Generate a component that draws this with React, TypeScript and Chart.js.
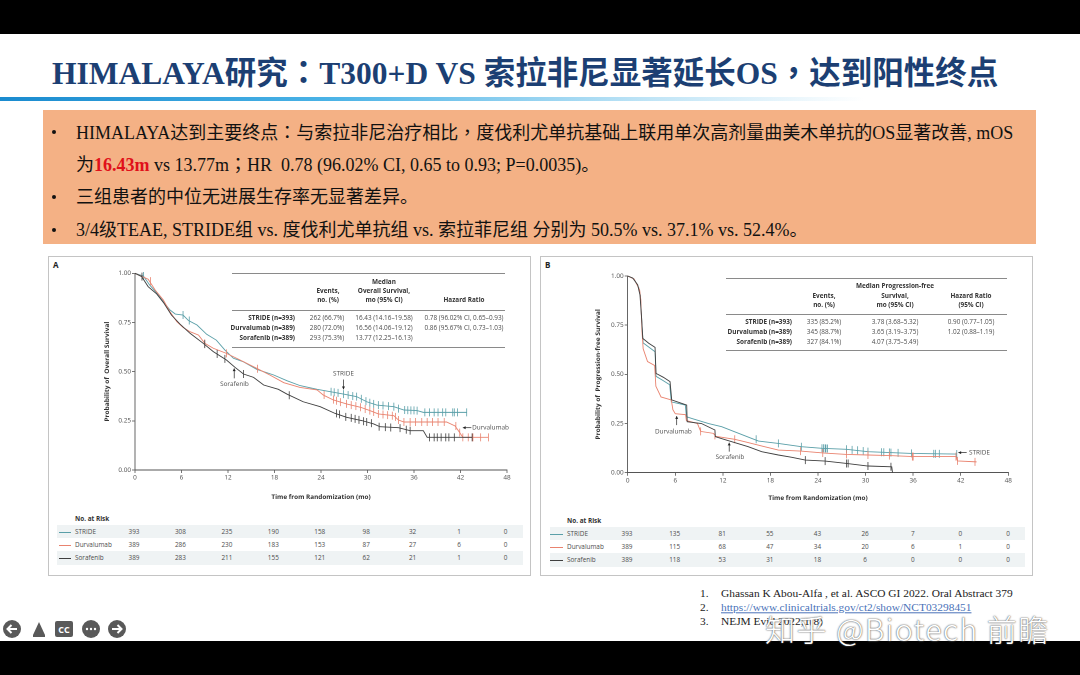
import React, { useEffect, useRef } from "react";
import { Chart, registerables } from "chart.js";

Chart.register(...registerables);

const STRIDE_COLOR = "#5a9fa8";
const DURVA_COLOR = "#e9836f";
const SORA_COLOR = "#3f3f3f";
const TEXT_COLOR = "#4d4d4d";
const UI_FONT = '"Open Sans", sans-serif';
const SLIDE_FONT = '"Liberation Serif", "Noto Sans CJK SC", serif';
const PUNCT_FONT = '"Noto Sans CJK TC", sans-serif';

const xTicks = [0, 6, 12, 18, 24, 30, 36, 42, 48];
const yTicks = [0, 0.25, 0.5, 0.75, 1];

// Overall survival curves
const osStrideT = [0, 1.08, 1.9, 2.8, 3.66, 4.5, 5.2, 6.2, 6.9, 8, 9.25, 10.5, 11.6, 12.7, 14, 15.7, 17.9, 19.6, 21.3, 23.5, 25.2, 26.9, 28.6, 29.9, 31.2, 33.4, 34.7, 36.4, 37.2, 42.8];
const osStrideS = [1, 0.986, 0.94, 0.9, 0.856, 0.814, 0.793, 0.788, 0.76, 0.737, 0.69, 0.66, 0.61, 0.568, 0.55, 0.512, 0.483, 0.454, 0.429, 0.41, 0.398, 0.386, 0.373, 0.347, 0.33, 0.322, 0.305, 0.302, 0.293, 0.293];
const osDurvaT = [0, 1.7, 2.6, 3.66, 4.5, 5.4, 6.2, 7.1, 8.2, 9, 10.1, 11.8, 13.1, 15.7, 17.4, 19.2, 21.3, 23.5, 24.3, 25.6, 27.3, 29.1, 30.3, 31.4, 33.4, 34, 34.7, 40.2, 41.3, 41.9, 42.3, 45.6];
const osDurvaS = [1, 0.97, 0.915, 0.864, 0.805, 0.754, 0.725, 0.703, 0.686, 0.644, 0.619, 0.593, 0.568, 0.517, 0.483, 0.444, 0.42, 0.407, 0.381, 0.356, 0.336, 0.319, 0.302, 0.285, 0.276, 0.254, 0.244, 0.244, 0.224, 0.19, 0.166, 0.166];
const osSoraT = [0, 0.86, 1.7, 2.8, 3.75, 4.7, 5.8, 7.1, 8.8, 10.1, 11.8, 12.9, 14, 15.3, 16.6, 18.5, 19.6, 21.7, 23.9, 25.8, 27.3, 29.3, 30.8, 31.6, 34, 35.5, 37.2, 37.7, 43.5];
const osSoraS = [1, 0.983, 0.932, 0.895, 0.847, 0.788, 0.742, 0.695, 0.644, 0.602, 0.559, 0.522, 0.488, 0.471, 0.432, 0.41, 0.386, 0.347, 0.322, 0.288, 0.268, 0.251, 0.234, 0.22, 0.215, 0.2, 0.2, 0.166, 0.166];

// Overall survival censor marks
const osStrideCensorT = [1.1, 6.2, 7, 25.3, 25.7, 26.2, 26.9, 27.5, 28.1, 28.6, 29.2, 29.8, 30.3, 30.8, 31.4, 32, 32.7, 33.4, 34, 34.8, 35.2, 35.6, 36, 36.4, 37.4, 38, 38.6, 39.1, 39.7, 40.1, 41, 41.2, 41.6, 42.8];
const osStrideCensorS = [0.986, 0.788, 0.76, 0.398, 0.395, 0.392, 0.386, 0.381, 0.376, 0.373, 0.362, 0.35, 0.342, 0.336, 0.33, 0.328, 0.325, 0.322, 0.312, 0.305, 0.304, 0.303, 0.303, 0.302, 0.293, 0.293, 0.293, 0.293, 0.293, 0.293, 0.293, 0.293, 0.293, 0.293];
const osDurvaCensorT = [2, 9, 11.8, 15.8, 24.4, 25.6, 26, 26.5, 27.3, 27.9, 28.5, 29.1, 29.7, 30.3, 30.8, 31.4, 32, 32.6, 33.2, 33.6, 34, 34.7, 35.5, 36.2, 37, 37.7, 38.4, 39.1, 39.9, 41.4, 41.9, 42.3, 43, 43.6, 44.6, 45.6];
const osDurvaCensorS = [0.96, 0.644, 0.593, 0.515, 0.381, 0.358, 0.352, 0.345, 0.336, 0.33, 0.325, 0.319, 0.31, 0.302, 0.295, 0.285, 0.282, 0.279, 0.276, 0.27, 0.254, 0.244, 0.244, 0.244, 0.244, 0.244, 0.244, 0.244, 0.244, 0.224, 0.19, 0.166, 0.166, 0.166, 0.166, 0.166];
const osSoraCensorT = [0.9, 9, 10.6, 11.6, 14, 19.9, 26, 26.4, 27.2, 27.9, 28.4, 28.9, 29.5, 29.9, 30.5, 31.5, 32.3, 33, 34.2, 35, 35.5, 38, 38.6, 39, 39.5, 40.1, 40.5, 41.2, 43.5];
const osSoraCensorS = [0.983, 0.64, 0.59, 0.565, 0.488, 0.38, 0.288, 0.283, 0.27, 0.265, 0.26, 0.255, 0.248, 0.244, 0.238, 0.22, 0.218, 0.216, 0.213, 0.205, 0.2, 0.166, 0.166, 0.166, 0.166, 0.166, 0.166, 0.166, 0.166];

// Progression-free survival curves
const pfsStrideT = [0, 0.8, 1.4, 1.6, 1.8, 1.95, 3.45, 3.57, 4.4, 5.3, 5.5, 7.27, 7.4, 8.07, 10.2, 11.85, 13.5, 15.6, 16.5, 19, 21.9, 24.5, 27.6, 30.3, 35.8, 41.5];
const pfsStrideS = [1, 0.985, 0.94, 0.9, 0.75, 0.66, 0.615, 0.49, 0.47, 0.447, 0.36, 0.344, 0.285, 0.276, 0.25, 0.234, 0.208, 0.175, 0.161, 0.149, 0.132, 0.124, 0.119, 0.107, 0.098, 0.095];
const pfsDurvaT = [0, 0.8, 1.5, 1.65, 1.8, 1.95, 2.5, 3.4, 3.55, 4.2, 5.5, 5.7, 6, 7.3, 7.4, 8.8, 9.2, 10.8, 11.1, 13.5, 15, 17, 19, 21.8, 24.8, 27.6, 30.3, 33, 36, 41.4, 41.6, 44];
const pfsDurvaS = [1, 0.985, 0.93, 0.88, 0.72, 0.63, 0.565, 0.545, 0.44, 0.385, 0.37, 0.32, 0.3, 0.295, 0.265, 0.25, 0.21, 0.2, 0.185, 0.17, 0.155, 0.135, 0.115, 0.11, 0.1, 0.093, 0.09, 0.087, 0.082, 0.082, 0.06, 0.055];
const pfsSoraT = [0, 0.63, 1.26, 1.55, 1.77, 1.9, 2.65, 3.45, 3.57, 4.5, 5.34, 5.55, 7.44, 7.5, 9.3, 11, 11.05, 12.7, 15.2, 16.9, 19, 20.7, 22.4, 24.9, 27.6, 30.3, 33.3, 33.4];
const pfsSoraS = [1, 0.99, 0.955, 0.903, 0.776, 0.683, 0.658, 0.637, 0.505, 0.485, 0.463, 0.37, 0.344, 0.259, 0.25, 0.217, 0.183, 0.163, 0.132, 0.107, 0.09, 0.078, 0.064, 0.059, 0.047, 0.034, 0.03, 0];

// Progression-free survival censor marks
const pfsStrideCensorT = [16.2, 19, 21.9, 24.5, 24.7, 24.9, 25, 25.2, 27.6, 28.3, 29, 29.7, 30.3, 32, 32.3, 33, 33.2, 34.1, 35.8, 38.6, 38.8, 39.3, 41.5];
const pfsStrideCensorS = [0.17, 0.149, 0.132, 0.124, 0.124, 0.124, 0.123, 0.123, 0.119, 0.116, 0.114, 0.11, 0.107, 0.104, 0.104, 0.103, 0.102, 0.101, 0.098, 0.096, 0.096, 0.096, 0.095];
const pfsDurvaCensorT = [9.2, 11, 13.5, 21.8, 24.6, 27.6, 30.3, 33, 35.9, 36, 41.4, 41.6, 43.8];
const pfsDurvaCensorS = [0.21, 0.19, 0.17, 0.11, 0.1, 0.093, 0.09, 0.087, 0.082, 0.082, 0.082, 0.06, 0.055];
const pfsSoraCensorT = [22.4, 24.9, 27.6, 27.8, 30.3, 33.2];
const pfsSoraCensorS = [0.064, 0.059, 0.047, 0.047, 0.034, 0.03];

// Curve call-outs: text, text position, arrow start and end
const osNotes = [
  { text: "Sorafenib", x: 12.83, y: 0.437, align: "center", ax: 12.8, ay: 0.466, bx: 12.8, by: 0.517 },
  { text: "STRIDE", x: 26.9, y: 0.49, align: "center", ax: 26.9, ay: 0.46, bx: 26.9, by: 0.41 },
  { text: "Durvalumab", x: 43.5, y: 0.215, align: "left", ax: 43.4, ay: 0.215, bx: 42.3, by: 0.215 },
];
const pfsNotes = [
  { text: "Durvalumab", x: 5.76, y: 0.208, align: "center", ax: 6.18, ay: 0.242, bx: 6.18, by: 0.288 },
  { text: "Sorafenib", x: 12.9, y: 0.078, align: "center", ax: 12.8, ay: 0.107, bx: 12.8, by: 0.153 },
  { text: "STRIDE", x: 43.04, y: 0.102, align: "left", ax: 42.75, ay: 0.102, bx: 41.7, by: 0.102 },
];

// Tables
const armNames = ["STRIDE (n=393)", "Durvalumab (n=389)", "Sorafenib (n=389)"];
const osEvents = ["262 (66.7%)", "280 (72.0%)", "293 (75.3%)"];
const osMedian = ["16.43 (14.16–19.58)", "16.56 (14.06–19.12)", "13.77 (12.25–16.13)"];
const osHazard = ["0.78 (96.02% CI, 0.65–0.93)", "0.86 (95.67% CI, 0.73–1.03)", ""];
const pfsEvents = ["335 (85.2%)", "345 (88.7%)", "327 (84.1%)"];
const pfsMedian = ["3.78 (3.68–5.32)", "3.65 (3.19–3.75)", "4.07 (3.75–5.49)"];
const pfsHazard = ["0.90 (0.77–1.05)", "1.02 (0.88–1.19)", ""];

const riskArms = ["STRIDE", "Durvalumab", "Sorafenib"];
const osRisk = [
  [393, 308, 235, 190, 158, 98, 32, 1, 0],
  [389, 286, 230, 183, 153, 87, 27, 6, 0],
  [389, 283, 211, 155, 121, 62, 21, 1, 0],
];
const pfsRisk = [
  [393, 135, 81, 55, 43, 26, 7, 0, 0],
  [389, 115, 68, 47, 34, 20, 6, 1, 0],
  [389, 118, 53, 31, 18, 6, 0, 0, 0],
];
const armColors = [STRIDE_COLOR, DURVA_COLOR, SORA_COLOR];

const zip = (xs: number[], ys: number[]) => xs.map((x, i) => ({ x, y: ys[i] }));

function KM({ left, top, width, height, padL, yW, xH, padT, padR, titleBottom, yTitle, curves, censors, notes }: any) {
  const ref = useRef<HTMLCanvasElement | null>(null);
  useEffect(() => {
    const annotate = {
      id: "annotate",
      afterDatasetsDraw(c: any) {
        const g = c.ctx;
        const sx = c.scales.x;
        const sy = c.scales.y;
        g.save();
        g.font = `6.4px ${UI_FONT}`;
        g.textBaseline = "middle";
        for (const n of notes) {
          g.fillStyle = TEXT_COLOR;
          g.textAlign = n.align;
          g.fillText(n.text, sx.getPixelForValue(n.x), sy.getPixelForValue(n.y));
          const ax = sx.getPixelForValue(n.ax);
          const ay = sy.getPixelForValue(n.ay);
          const bx = sx.getPixelForValue(n.bx);
          const by = sy.getPixelForValue(n.by);
          const ang = Math.atan2(by - ay, bx - ax);
          g.strokeStyle = "#222";
          g.fillStyle = "#222";
          g.lineWidth = 0.7;
          g.beginPath();
          g.moveTo(ax, ay);
          g.lineTo(bx, by);
          g.stroke();
          g.beginPath();
          g.moveTo(bx, by);
          g.lineTo(bx - 3.2 * Math.cos(ang - 0.5), by - 3.2 * Math.sin(ang - 0.5));
          g.lineTo(bx - 3.2 * Math.cos(ang + 0.5), by - 3.2 * Math.sin(ang + 0.5));
          g.fill();
        }
        g.restore();
      },
    };
    const line = (d: any, color: string) => ({
      data: d, borderColor: color, backgroundColor: color, showLine: true, pointRadius: 0, borderWidth: 0.9, tension: 0, clip: false,
    });
    const tick = (d: any, color: string) => ({
      data: d, borderColor: color, backgroundColor: color, showLine: false, pointStyle: "line", rotation: 90, pointRadius: 4, pointBorderWidth: 0.8, clip: false,
    });
    const tickFont = { family: UI_FONT, size: 6.4 };
    const chart = new Chart(ref.current as HTMLCanvasElement, {
      type: "scatter",
      data: {
        datasets: [
          line(curves[2], SORA_COLOR), tick(censors[2], SORA_COLOR),
          line(curves[1], DURVA_COLOR), tick(censors[1], DURVA_COLOR),
          line(curves[0], STRIDE_COLOR), tick(censors[0], STRIDE_COLOR),
        ] as any,
      },
      options: {
        animation: false,
        responsive: false,
        devicePixelRatio: 2,
        layout: { padding: { left: padL, top: padT, right: padR, bottom: 0 } },
        plugins: { legend: { display: false }, tooltip: { enabled: false } },
        scales: {
          x: {
            type: "linear", min: 0, max: 48,
            afterBuildTicks: (s: any) => { s.ticks = xTicks.map((value) => ({ value })); },
            afterFit: (s: any) => { s.height = xH; },
            ticks: { color: TEXT_COLOR, font: tickFont, maxRotation: 0, padding: 1 },
            grid: { drawOnChartArea: false, color: "#555", tickLength: 3, lineWidth: 0.8 },
            border: { color: "#555", width: 0.9 },
            title: { display: true, text: "Time from Randomization (mo)", color: "#333", font: { family: UI_FONT, size: 6.4, weight: "bold" }, padding: { top: 0, bottom: titleBottom } },
          },
          y: {
            type: "linear", min: 0, max: 1,
            afterBuildTicks: (s: any) => { s.ticks = yTicks.map((value) => ({ value })); },
            afterFit: (s: any) => { s.width = yW; },
            ticks: { color: TEXT_COLOR, font: tickFont, padding: 1, callback: (v: any) => Number(v).toFixed(2) },
            grid: { drawOnChartArea: false, color: "#555", tickLength: 3, lineWidth: 0.8 },
            border: { color: "#555", width: 0.9 },
            title: { display: true, text: yTitle, color: "#333", font: { family: UI_FONT, size: 6.6, weight: "bold" }, padding: 0 },
          },
        },
      } as any,
      plugins: [annotate],
    });
    return () => chart.destroy();
  }, []);
  return <canvas ref={ref} style={{ position: "absolute", left, top, width, height }} width={width} height={height} />;
}

const abs = (o: any): any => ({ position: "absolute", whiteSpace: "nowrap", ...o });

function Txt({ x, y, align, bold, children, size = 6.4, color = TEXT_COLOR }: any) {
  const tf = align === "right" ? "translate(-100%,-50%)" : align === "center" ? "translate(-50%,-50%)" : "translate(0,-50%)";
  return (
    <div style={abs({ left: x, top: y, transform: tf, fontFamily: UI_FONT, fontSize: size, fontWeight: bold ? 700 : 400, color, lineHeight: 1 })}>
      {children}
    </div>
  );
}

function Rule({ x0, x1, y }: any) {
  return <div style={abs({ left: x0, top: y - 0.5, width: x1 - x0, height: 1, background: "#8a8a8a" })} />;
}

function StudyTable({ t }: any) {
  return (
    <>
      <Rule x0={t.x0} x1={t.x1} y={t.lines[0]} />
      <Rule x0={t.x0} x1={t.x1} y={t.lines[1]} />
      <Rule x0={t.x0} x1={t.x1} y={t.lines[2]} />
      {t.heads.map((h: any, i: number) => (
        <Txt key={i} x={h.x} y={h.y} align="center" bold color="#333">{h.s}</Txt>
      ))}
      {armNames.map((n, i) => (
        <React.Fragment key={n}>
          <Txt x={t.nameX} y={t.rows[i]} align="right" bold color="#333">{n}</Txt>
          <Txt x={t.evX} y={t.rows[i]} align="center">{t.ev[i]}</Txt>
          <Txt x={t.medX} y={t.rows[i]} align="center">{t.med[i]}</Txt>
          <Txt x={t.hrX} y={t.rows[i]} align="center">{t.hr[i]}</Txt>
        </React.Fragment>
      ))}
    </>
  );
}

function RiskTable({ r }: any) {
  return (
    <>
      <Txt x={r.nameX} y={r.head} bold color="#333">No. at Risk</Txt>
      {riskArms.map((a, i) => (
        <React.Fragment key={a}>
          {i !== 1 && <div style={abs({ left: r.x0, top: r.top + i * 13.2, width: r.x1 - r.x0, height: 13.2, background: "#eff3f4" })} />}
          <div style={abs({ left: r.lineX0, top: r.top + 6.6 + i * 13.2, width: r.nameX - r.lineX0 - 4, height: 1, background: armColors[i] })} />
          <Txt x={r.nameX} y={r.top + 6.6 + i * 13.2}>{a}</Txt>
          {r.rows[i].map((v: number, k: number) => (
            <Txt key={k} x={r.ax0 + (k * (r.ax1 - r.ax0)) / 8} y={r.top + 6.6 + i * 13.2} align="center">{v}</Txt>
          ))}
        </React.Fragment>
      ))}
    </>
  );
}

const osTable = {
  x0: 232, x1: 505, lines: [273.3, 310, 347.7], rows: [317.7, 328, 338], nameX: 295, evX: 327, medX: 384, hrX: 464,
  ev: osEvents, med: osMedian, hr: osHazard,
  heads: [
    { s: "Events,", x: 328, y: 291 }, { s: "no. (%)", x: 328, y: 300 },
    { s: "Median", x: 384, y: 282 }, { s: "Overall Survival,", x: 384, y: 291 }, { s: "mo (95% CI)", x: 384, y: 300 },
    { s: "Hazard Ratio", x: 464, y: 300 },
  ],
};
const pfsTable = {
  x0: 726, x1: 1006.7, lines: [278, 314, 350.7], rows: [321.7, 332, 342], nameX: 792, evX: 824, medX: 895, hrX: 971,
  ev: pfsEvents, med: pfsMedian, hr: pfsHazard,
  heads: [
    { s: "Events,", x: 824, y: 295.7 }, { s: "no. (%)", x: 824, y: 305 },
    { s: "Median Progression-free", x: 895, y: 286 }, { s: "Survival,", x: 895, y: 295.7 }, { s: "mo (95% CI)", x: 895, y: 305 },
    { s: "Hazard Ratio", x: 971, y: 295.7 }, { s: "(95% CI)", x: 971, y: 305 },
  ],
};

function Controls() {
  const c = "#595959";
  return (
    <svg style={abs({ left: 0, top: 617, width: 130, height: 24 })} viewBox="0 0 130 24">
      <circle cx="12" cy="12" r="9" fill={c} />
      <path d="M17 12H8M11.5 8L7.5 12L11.5 16" stroke="#fff" strokeWidth="2" fill="none" />
      <path d="M39 5L45 18H33Z" fill={c} />
      <rect x="33" y="18" width="12" height="2" fill={c} />
      <rect x="55" y="4" width="18" height="16" rx="2" fill={c} />
      <text x="64" y="15.5" fontFamily={UI_FONT} fontSize="9" fontWeight="700" fill="#fff" textAnchor="middle">CC</text>
      <circle cx="91" cy="12" r="9" fill={c} />
      <circle cx="87" cy="12" r="1.2" fill="#fff" /><circle cx="91" cy="12" r="1.2" fill="#fff" /><circle cx="95" cy="12" r="1.2" fill="#fff" />
      <circle cx="117" cy="12" r="9" fill={c} />
      <path d="M112 12H121M117.5 8L121.5 12L117.5 16" stroke="#fff" strokeWidth="2" fill="none" />
    </svg>
  );
}

const P = ({ c }: any) => <span style={{ fontFamily: PUNCT_FONT }}>{c}</span>;

export default function App() {
  useEffect(() => {
    document.body.style.margin = "0";
    document.body.style.background = "#fff";
  }, []);
  const bodyLine = (y: number, children: any) => (
    <div style={abs({ left: 76, top: y, transform: "translateY(-50%)", fontFamily: SLIDE_FONT, fontSize: 18, color: "#111", lineHeight: 1 })}>{children}</div>
  );
  const bullet = (y: number) => <div style={abs({ left: 52, top: y - 2, width: 4, height: 4, borderRadius: 2, background: "#111" })} />;
  return (
    <div style={{ position: "relative", width: 1080, height: 675, overflow: "hidden", background: "#fff", filter: "blur(0.35px)" }}>
      <div style={abs({ left: 0, top: 0, width: 1080, height: 34, background: "#000" })} />
      <div style={abs({ left: 0, top: 641, width: 1080, height: 34, background: "#000" })} />

      <div style={abs({ left: 52, top: 72, transform: "translateY(-50%)", fontFamily: SLIDE_FONT, fontWeight: 700, fontSize: 31.5, color: "#1c3f73", lineHeight: 1 })}>
        HIMALAYA研究<P c="：" />T300+D VS 索拉非尼显著延长OS<P c="，" />达到阳性终点
      </div>
      <div style={abs({ left: 0, top: 97, width: 1080, height: 3.5, background: "linear-gradient(90deg,#1a8bcf 0%,#49b2e6 30%,#bfe4f6 60%,#ffffff 80%)" })} />

      <div style={abs({ left: 43, top: 110, width: 993, height: 134, background: "#f4b185" })} />
      {bullet(132)}
      {bodyLine(132, <>HIMALAYA达到主要终点<P c="：" />与索拉非尼治疗相比<P c="，" />度伐利尤单抗基础上联用单次高剂量曲美木单抗的OS显著改善, mOS</>)}
      {bodyLine(164, <>为<span style={{ color: "#e0101a", fontWeight: 700 }}>16.43m</span> vs 13.77m<P c="；" />HR&nbsp; 0.78 (96.02% CI, 0.65 to 0.93; P=0.0035)。</>)}
      {bullet(197)}
      {bodyLine(197, "三组患者的中位无进展生存率无显著差异。")}
      {bullet(230)}
      {bodyLine(230, "3/4级TEAE, STRIDE组 vs. 度伐利尤单抗组 vs. 索拉菲尼组 分别为 50.5% vs. 37.1% vs. 52.4%。")}

      <div style={abs({ left: 48, top: 256, width: 483, height: 320, border: "1px solid #c4c4c4", boxSizing: "border-box", background: "#fff" })} />
      <div style={abs({ left: 540, top: 256, width: 493, height: 320, border: "1px solid #c4c4c4", boxSizing: "border-box", background: "#fff" })} />
      <Txt x={53} y={265} bold color="#222" size={8}>A</Txt>
      <Txt x={545} y={265} bold color="#222" size={8}>B</Txt>

      <KM left={48} top={256} width={484} height={250} padL={55} yW={32} xH={36} padT={17.3} padR={25} titleBottom={5}
        yTitle="Probability of  Overall Survival"
        curves={[zip(osStrideT, osStrideS), zip(osDurvaT, osDurvaS), zip(osSoraT, osSoraS)]}
        censors={[zip(osStrideCensorT, osStrideCensorS), zip(osDurvaCensorT, osDurvaCensorS), zip(osSoraCensorT, osSoraCensorS)]}
        notes={osNotes} />
      <KM left={540} top={256} width={493} height={255} padL={54} yW={33.7} xH={38.3} padT={20} padR={24.7} titleBottom={9}
        yTitle="Probability of  Progression-free Survival"
        curves={[zip(pfsStrideT, pfsStrideS), zip(pfsDurvaT, pfsDurvaS), zip(pfsSoraT, pfsSoraS)]}
        censors={[zip(pfsStrideCensorT, pfsStrideCensorS), zip(pfsDurvaCensorT, pfsDurvaCensorS), zip(pfsSoraCensorT, pfsSoraCensorS)]}
        notes={pfsNotes} />

      <StudyTable t={osTable} />
      <StudyTable t={pfsTable} />
      <RiskTable r={{ nameX: 75, head: 519, x0: 57, x1: 523, top: 525, lineX0: 59, ax0: 134, ax1: 505.5, rows: osRisk }} />
      <RiskTable r={{ nameX: 567, head: 521, x0: 550, x1: 1025, top: 527, lineX0: 550, ax0: 627, ax1: 1008, rows: pfsRisk }} />

      {[
        "Ghassan K Abou-Alfa , et al. ASCO GI 2022. Oral Abstract 379",
        "https://www.clinicaltrials.gov/ct2/show/NCT03298451",
        "NEJM Evid 2022;1(8)",
      ].map((s, i) => (
        <React.Fragment key={s}>
          <div style={abs({ left: 700, top: 594 + i * 14, transform: "translateY(-50%)", fontFamily: SLIDE_FONT, fontSize: 11.4, color: "#222", lineHeight: 1 })}>{i + 1}.</div>
          <div style={abs({ left: 721, top: 594 + i * 14, transform: "translateY(-50%)", fontFamily: SLIDE_FONT, fontSize: 11.4, lineHeight: 1, color: i === 1 ? "#4a72b8" : "#222", textDecoration: i === 1 ? "underline" : "none" })}>{s}</div>
        </React.Fragment>
      ))}

      <Controls />
      <div style={abs({ left: 765, top: 628, transform: "translateY(-50%)", fontFamily: '"Noto Sans CJK SC", "Noto Sans", sans-serif', fontWeight: 300, fontSize: 30, letterSpacing: 1.5, lineHeight: 1, color: "#fff", textShadow: "0 0 2px #666, 0 0 1px #666" })}>
        知乎 @Biotech 前瞻
      </div>
    </div>
  );
}
